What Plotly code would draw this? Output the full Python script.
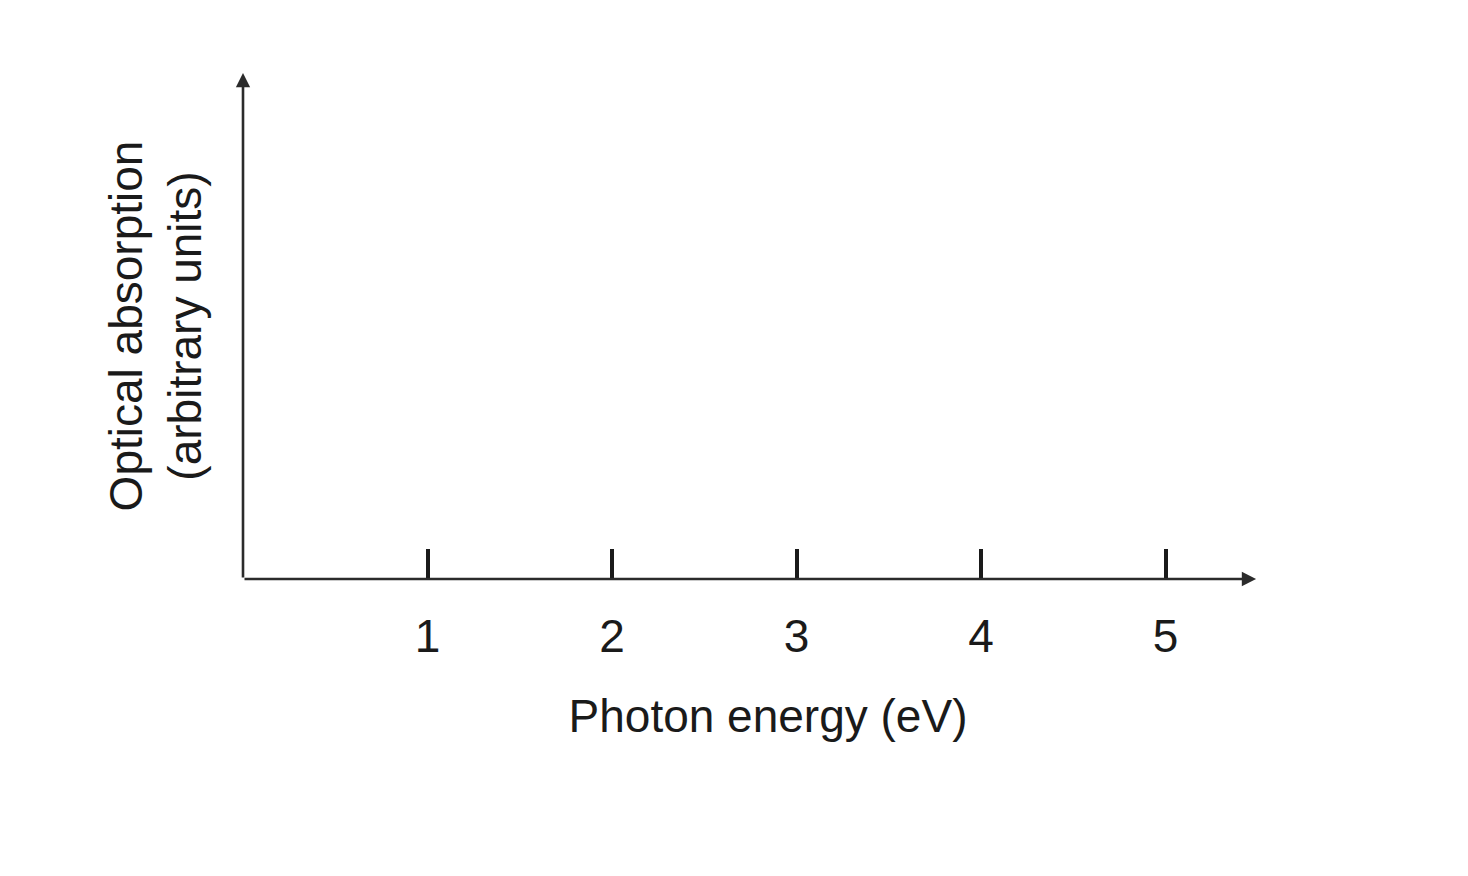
import plotly.graph_objects as go

# Data
tick_values = [1, 2, 3, 4, 5]
tick_labels = ["1", "2", "3", "4", "5"]
x_title = "Photon energy (eV)"
y_title = "Optical absorption<br>(arbitrary units)"
x_end = 5.49   # where the x-axis arrow ends (eV)
y_end = 1.0    # top of y-axis arrow

FONT = "Liberation Sans, Arial, sans-serif"
LINE = "#2b2b2b"
TXT = "#1a1a1a"

fig = go.Figure()
# invisible trace to establish the axes
fig.add_trace(go.Scatter(x=[0, x_end], y=[0, y_end], mode="markers",
                         marker=dict(opacity=0), hoverinfo="skip",
                         showlegend=False))

# axis lines with arrow heads (drawn from the origin)
fig.add_annotation(x=x_end, y=0, ax=0, ay=0, xref="x", yref="y",
                   axref="x", ayref="y", showarrow=True, arrowhead=2,
                   arrowsize=1.1, arrowwidth=2.6, arrowcolor=LINE, text="")
fig.add_annotation(x=0, y=y_end, ax=0, ay=0, xref="x", yref="y",
                   axref="x", ayref="y", showarrow=True, arrowhead=2,
                   arrowsize=1.1, arrowwidth=2.6, arrowcolor=LINE, text="")

fig.update_layout(
    width=1468, height=876,
    margin=dict(l=243, r=175, t=73, b=297),
    paper_bgcolor="white", plot_bgcolor="white",
    font=dict(family=FONT, size=46, color=TXT),
    xaxis=dict(range=[0, 5.69], showgrid=False, zeroline=False, showline=False,
               tickmode="array", tickvals=tick_values, ticktext=tick_labels,
               ticks="inside", ticklen=30, tickwidth=3.5, tickcolor=TXT,
               ticklabelstandoff=26,
               tickfont=dict(family=FONT, size=46, color=TXT),
               title=dict(text=x_title, standoff=38,
                          font=dict(family=FONT, size=46, color=TXT)),
               fixedrange=True),
    yaxis=dict(range=[0, 1.0], showgrid=False, zeroline=False, showline=False,
               showticklabels=False, ticks="",
               title=dict(text=y_title, standoff=25,
                          font=dict(family=FONT, size=46, color=TXT)),
               fixedrange=True),
)

fig.write_html("out.html")
